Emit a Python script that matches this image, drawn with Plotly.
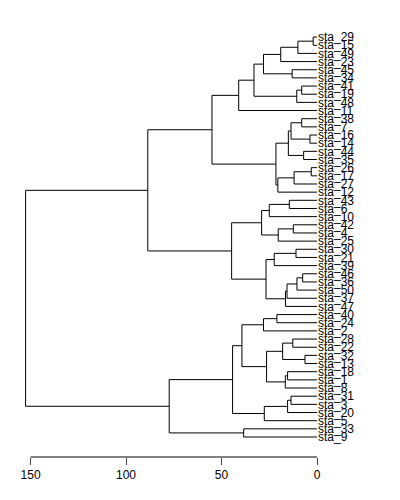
import plotly.graph_objects as go

# leaf order top to bottom
leaves = ["sta_29", "sta_15", "sta_49", "sta_23", "sta_45", "sta_34", "sta_41", "sta_19", "sta_48", "sta_11",
          "sta_38", "sta_7", "sta_16", "sta_14", "sta_44", "sta_35", "sta_26", "sta_17", "sta_27", "sta_12",
          "sta_43", "sta_6", "sta_10", "sta_42", "sta_4", "sta_25", "sta_30", "sta_21", "sta_39", "sta_46",
          "sta_36", "sta_50", "sta_37", "sta_47", "sta_40", "sta_24", "sta_2", "sta_28", "sta_22", "sta_32",
          "sta_13", "sta_18", "sta_1", "sta_8", "sta_31", "sta_3", "sta_20", "sta_5", "sta_33", "sta_9"]

# merges: (left, right, height); ints refer to earlier merges
merge_left = ["sta_29", 0, 1, "sta_45", 2, "sta_41", 5, 4, 7,
              "sta_38", "sta_16", 9, "sta_44", 11, "sta_26", 14, 15, 13, 8,
              "sta_43", 19, "sta_42", 21, 20, "sta_30", 24, "sta_46", 26, 27, 28, 25, 23, 18,
              "sta_40", 33, "sta_28", "sta_32", 35, "sta_18", 38, 37, 34, "sta_31", 42, 43, 41, "sta_33", 45, 32]
merge_right = ["sta_15", "sta_49", "sta_23", "sta_34", 3, "sta_19", "sta_48", 6, "sta_11",
               "sta_7", "sta_14", 10, "sta_35", 12, "sta_17", "sta_27", "sta_12", 16, 17,
               "sta_6", "sta_10", "sta_4", "sta_25", 22, "sta_21", "sta_39", "sta_36", "sta_50", "sta_37", "sta_47", 29, 30, 31,
               "sta_24", "sta_2", "sta_22", "sta_13", 36, "sta_1", "sta_8", 39, 40, "sta_3", "sta_20", "sta_5", 44, "sta_9", 46, 47]
merge_height = [2, 10, 19, 13, 28, 8, 10.6, 33, 41,
                8, 3.7, 13.6, 7, 15, 3, 12, 20.5, 21.5, 55,
                14.5, 25, 12.4, 20.3, 29, 11, 22.4, 7.5, 10.5, 15.7, 16.5, 26.7, 44.7, 88.6,
                21, 28, 12.7, 6.3, 18, 15.4, 16.6, 26.4, 39.3, 13.6, 15.4, 27.6, 44.2, 38.4, 77.4, 152.6]

pos = {name: i for i, name in enumerate(leaves)}
xs, ys = [], []
node_y, node_h = [], []


def where(n):
    if isinstance(n, int):
        return node_y[n], node_h[n]
    return pos[n], 0


for l, r, h in zip(merge_left, merge_right, merge_height):
    ly, lh = where(l)
    ry, rh = where(r)
    xs += [lh, h, h, rh, None]
    ys += [ly, ly, ry, ry, None]
    node_y.append((ly + ry) / 2)
    node_h.append(h)

fig = go.Figure(go.Scatter(x=xs, y=ys, mode="lines", line=dict(color="black", width=1),
                           hoverinfo="skip"))
fig.add_shape(type="line", xref="x", yref="paper", x0=150, x1=0, y0=0, y1=0,
              line=dict(color="black", width=1))
fig.update_layout(
    width=400, height=500, showlegend=False,
    margin=dict(l=13, r=91, t=25, b=51),
    paper_bgcolor="white", plot_bgcolor="white",
    font=dict(family="Liberation Sans, Arial", color="black"),
    xaxis=dict(range=[155, 0], tickvals=[150, 100, 50, 0], ticks="outside", ticklen=7,
               tickfont=dict(size=12), showgrid=False, zeroline=False, showline=False,
               automargin=False),
    yaxis=dict(range=[51.45, -0.5], side="right", tickvals=list(range(len(leaves))), ticktext=leaves,
               tickfont=dict(size=12), showgrid=False, zeroline=False, showline=False, ticks="",
               automargin=False),
)
fig.write_html("out.html")
